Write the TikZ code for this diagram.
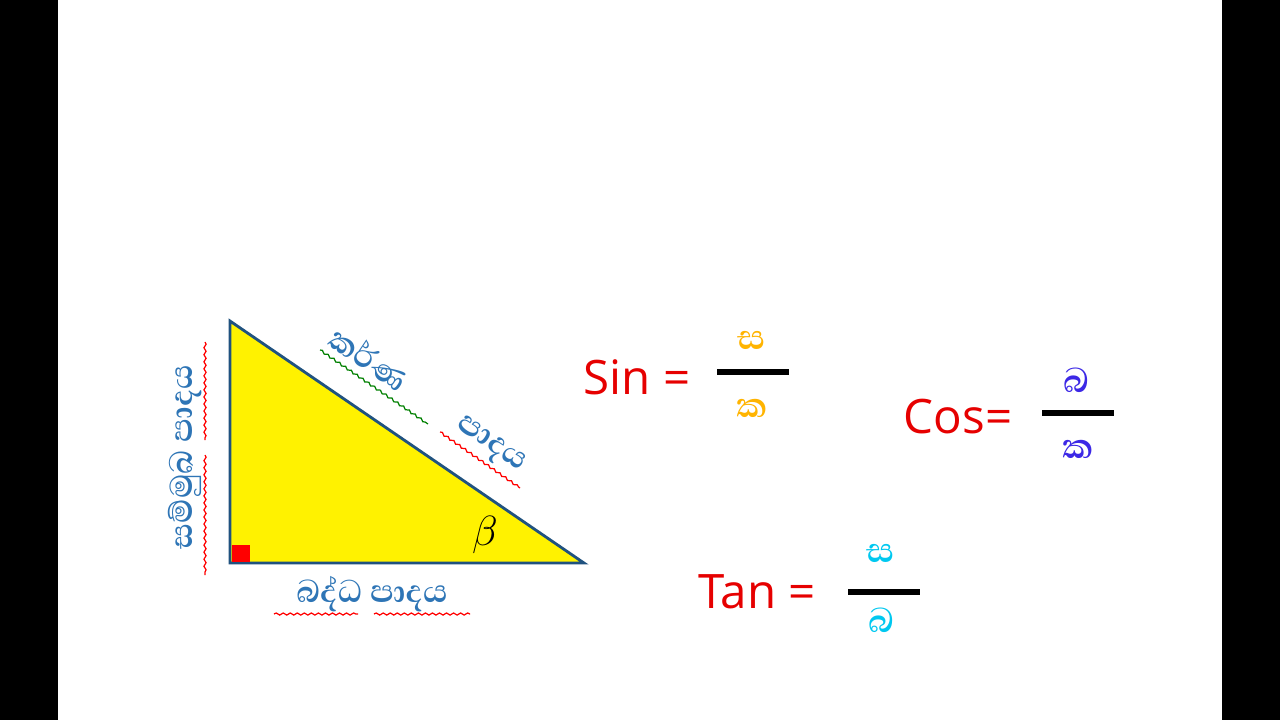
\documentclass[tikz,border=0pt]{standalone}
\usepackage{fontspec}
\setmainfont{Open Sans}
\newfontfamily\sinhalafont[Script=Sinhala]{Abhaya Libre}
\usetikzlibrary{decorations.pathmorphing}
\definecolor{sideblue}{RGB}{46,117,182}
\definecolor{fracred}{RGB}{230,0,0}
\definecolor{fracorange}{RGB}{255,180,0}
\definecolor{fracpurple}{RGB}{60,40,230}
\definecolor{fraccyan}{RGB}{0,200,240}
\tikzset{
  side/.style={text=sideblue, font=\sinhalafont\fontsize{11.5}{13}\selectfont\bfseries},
  fname/.style={text=fracred, font=\fontsize{13.5}{15}\selectfont, anchor=center},
  letter/.style={font=\sinhalafont\fontsize{12.5}{14}\selectfont\bfseries},
  bar/.style={line width=1.6pt},
  squig/.style={decorate, decoration={snake, amplitude=0.3pt, segment length=2pt}, line width=0.35pt}
}
\begin{document}
\begin{tikzpicture}[x=0.01cm, y=-0.01cm]
  \fill[black] (0,0) rectangle (1280,720);
  \fill[white] (58,0) rectangle (1222,720);
  \useasboundingbox (0,0) rectangle (1280,720);
  % triangle
  \coordinate (top) at (230,321);
  \coordinate (rc) at (230,563);
  \coordinate (rt) at (584,563);
  \draw[fill=yellow, draw=sideblue!70!black, line width=0.8pt] (top) -- (rc) -- (rt) -- cycle;
  \fill[red] (232,545) rectangle (250,562);
  \node (beta) at (485,535) {\fontsize{13}{15}\selectfont$\beta$};
  % side labels
  \node[side, rotate=-34] (hyp1) at (370,358) {කර්ණ};
  \node[side, rotate=-34] (hyp2) at (490,446) {පාදය};
  \node[side, rotate=90] (opp) at (185,457) {සම්මුඛ පාදය};
  \node[side] (adj) at (372,594) {බද්ධ පාදය};
  \draw[squig, green!50!black] (320,350) -- (428,424);
  \draw[squig, red] (440,432) -- (520,488);
  \draw[squig, red] (205,342) -- (205,440);
  \draw[squig, red] (205,455) -- (205,575);
  \draw[squig, red] (274,614) -- (358,614);
  \draw[squig, red] (374,614) -- (470,614);
  % sin
  \node[fname] (sin) at (637,377) {Sin =};
  \draw[bar] (717,372) -- (789,372);
  \node[letter, text=fracorange] (sinnum) at (752,340) {ස};
  \node[letter, text=fracorange] (sinden) at (752,408) {ක};
  % cos
  \node[fname] (cos) at (958,417) {Cos=};
  \draw[bar] (1042,413) -- (1114,413);
  \node[letter, text=fracpurple] (cosnum) at (1076,380) {බ};
  \node[letter, text=fracpurple] (cosden) at (1078,449) {ක};
  % tan
  \node[fname] (tan) at (757,592) {Tan =};
  \draw[bar] (848,592) -- (920,592);
  \node[letter, text=fraccyan] (tannum) at (881,553) {ස};
  \node[letter, text=fraccyan] (tanden) at (881,620) {බ};
\end{tikzpicture}
\end{document}
